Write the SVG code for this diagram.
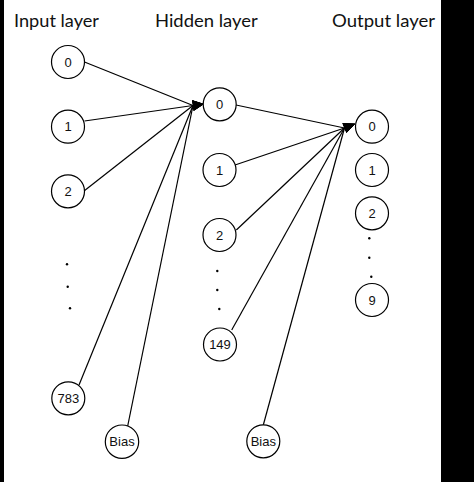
<svg xmlns="http://www.w3.org/2000/svg" width="474" height="482" viewBox="0 0 474 482">
<style>
.node circle{fill:#fff;stroke:#000;stroke-width:1.2}
.node text{font-family:"Liberation Sans",Arial,sans-serif;font-size:13px;fill:#111;text-anchor:middle}
.title{font-family:Lato,"Open Sans",sans-serif;font-size:17px;fill:#111}
.edges line{stroke:#000;stroke-width:1.2}
.dot{fill:#000}
</style>
<defs>
<marker id="arrH" markerUnits="userSpaceOnUse" markerWidth="12" markerHeight="12" refX="0" refY="5.25" orient="-8" overflow="visible">
<path d="M0,0 L11,5.25 L0,10.5 Z" fill="#000"/>
</marker>
<marker id="arrO" markerUnits="userSpaceOnUse" markerWidth="12" markerHeight="12" refX="0" refY="5.25" orient="-22" overflow="visible">
<path d="M0,0 L11.5,5.25 L0,10.5 Z" fill="#000"/>
</marker>
</defs>
<rect x="0" y="0" width="474" height="482" fill="#000"/>
<rect x="4" y="0" width="437" height="482" fill="#fff"/>
<text class="title" x="14" y="27" textLength="85" lengthAdjust="spacingAndGlyphs">Input layer</text>
<text class="title" x="155" y="27" textLength="102.7" lengthAdjust="spacingAndGlyphs">Hidden layer</text>
<text class="title" x="332" y="27" textLength="103" lengthAdjust="spacingAndGlyphs">Output layer</text>
<g class="edges" id="connectors">
<line x1="84.5" y1="62" x2="193" y2="105.5" marker-end="url(#arrH)"/>
<line x1="84.5" y1="121" x2="193" y2="105.5" marker-end="url(#arrH)"/>
<line x1="84" y1="191" x2="193" y2="105.5" marker-end="url(#arrH)"/>
<line x1="79" y1="385" x2="193" y2="105.5" marker-end="url(#arrH)"/>
<line x1="127.7" y1="426" x2="193" y2="105.5" marker-end="url(#arrH)"/>
<line x1="236" y1="105" x2="344.5" y2="128" marker-end="url(#arrO)"/>
<line x1="235" y1="165" x2="344.5" y2="128" marker-end="url(#arrO)"/>
<line x1="236.3" y1="230" x2="344.5" y2="128" marker-end="url(#arrO)"/>
<line x1="231.7" y1="330" x2="344.5" y2="128" marker-end="url(#arrO)"/>
<line x1="263.3" y1="425" x2="344.5" y2="128" marker-end="url(#arrO)"/>
</g>
<g class="node" id="in0"><circle cx="68" cy="62" r="16.5"/><text x="68" y="66.7">0</text></g>
<g class="node" id="in1"><circle cx="68" cy="126.7" r="16.5"/><text x="68" y="131.4">1</text></g>
<g class="node" id="in2"><circle cx="68" cy="191.3" r="16.5"/><text x="68" y="196">2</text></g>
<g id="inDots"><circle class="dot" cx="67" cy="264.3" r="1.2"/><circle class="dot" cx="67.7" cy="286.7" r="1.2"/><circle class="dot" cx="70" cy="308.3" r="1.2"/></g>
<g class="node" id="in783"><circle cx="68.3" cy="398.3" r="16.5"/><text x="68.3" y="403">783</text></g>
<g class="node" id="inBias"><circle cx="122" cy="441.7" r="16.7"/><text x="122" y="446.4">Bias</text></g>
<g class="node" id="h0"><circle cx="219.7" cy="104.3" r="16.5"/><text x="219.7" y="109">0</text></g>
<g class="node" id="h1"><circle cx="219.5" cy="170" r="16.5"/><text x="219.5" y="174.7">1</text></g>
<g class="node" id="h2"><circle cx="219.5" cy="235" r="16.5"/><text x="219.5" y="239.7">2</text></g>
<g id="hDots"><circle class="dot" cx="217.3" cy="271" r="1.2"/><circle class="dot" cx="217.3" cy="290" r="1.2"/><circle class="dot" cx="219.3" cy="309" r="1.2"/></g>
<g class="node" id="h149"><circle cx="220" cy="344.5" r="16.5"/><text x="220" y="349.2">149</text></g>
<g class="node" id="hBias"><circle cx="263.3" cy="441.3" r="16.5"/><text x="263.3" y="446">Bias</text></g>
<g class="node" id="o0"><circle cx="372" cy="126.7" r="16.5"/><text x="372" y="131.4">0</text></g>
<g class="node" id="o1"><circle cx="372" cy="170" r="16.5"/><text x="372" y="174.7">1</text></g>
<g class="node" id="o2"><circle cx="372" cy="213.3" r="16.5"/><text x="372" y="218">2</text></g>
<g id="oDots"><circle class="dot" cx="369.3" cy="238.3" r="1.2"/><circle class="dot" cx="369.3" cy="257.7" r="1.2"/><circle class="dot" cx="371.3" cy="276.7" r="1.2"/></g>
<g class="node" id="o9"><circle cx="372" cy="300" r="16.5"/><text x="372" y="304.7">9</text></g>
</svg>
